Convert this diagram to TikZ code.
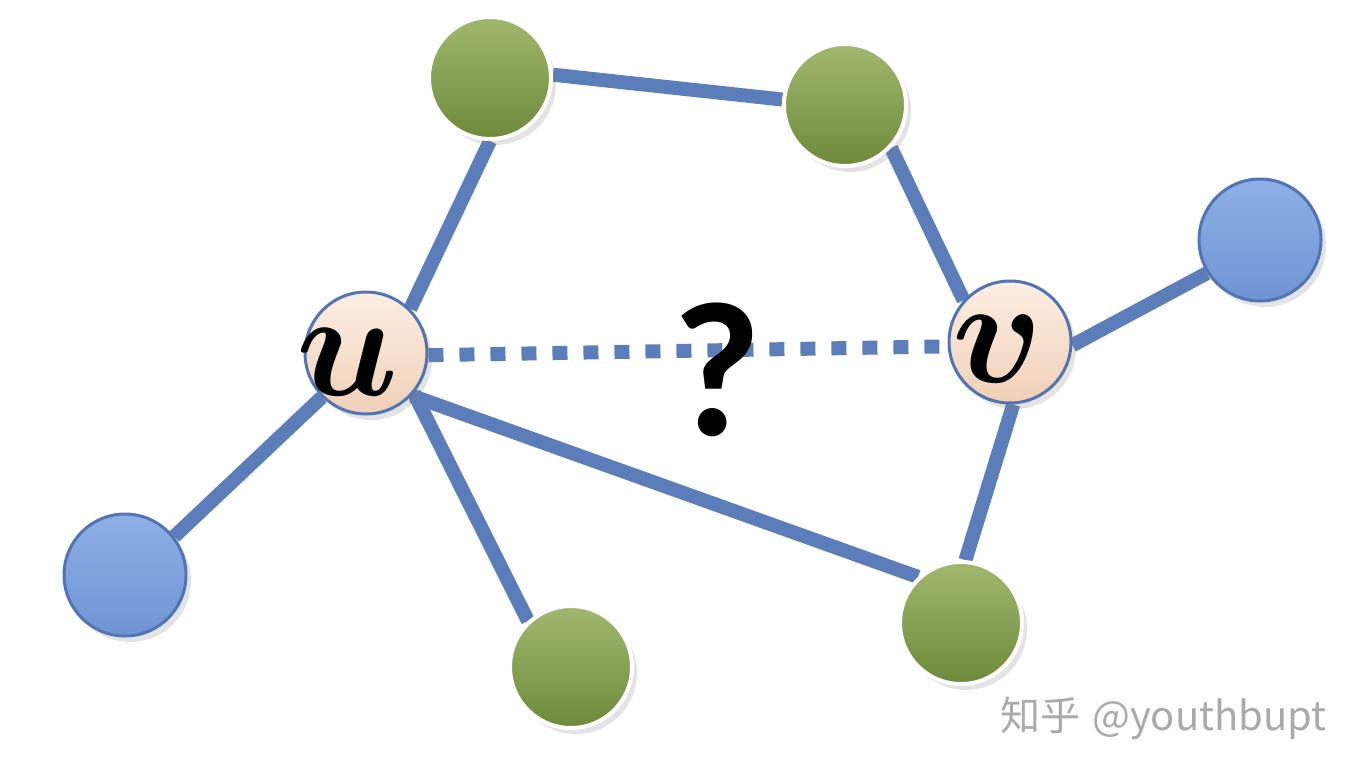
\documentclass[tikz,border=0pt]{standalone}
\usepackage{fix-cm}
\usepackage{fontspec}
\newfontfamily\cjk{Noto Sans CJK SC}
\newfontfamily\qfont{Carlito}
\usetikzlibrary{shadows,backgrounds}
\definecolor{edgeblue}{RGB}{91,125,185}
\definecolor{greentop}{RGB}{160,184,110}
\definecolor{greenbot}{RGB}{108,138,58}
\definecolor{bluetop}{RGB}{140,176,230}
\definecolor{bluebot}{RGB}{110,148,212}
\definecolor{blueline}{RGB}{82,116,178}
\definecolor{peachtop}{RGB}{252,238,226}
\definecolor{peachbot}{RGB}{240,208,184}
\definecolor{wmgray}{RGB}{170,170,170}
\tikzset{
  nodeshadow/.style={drop shadow={opacity=0.22, shadow xshift=5pt, shadow yshift=-6pt}},
  greennode/.style={circle, inner sep=0pt, minimum size=122pt, draw=white, line width=4pt,
    top color=greentop, bottom color=greenbot, nodeshadow},
  bluenode/.style={circle, inner sep=0pt, minimum size=122pt, draw=blueline, line width=3pt,
    top color=bluetop, bottom color=bluebot, nodeshadow},
  peachnode/.style={circle, inner sep=0pt, minimum size=122pt, draw=blueline, line width=3pt,
    top color=peachtop, bottom color=peachbot, nodeshadow},
  link/.style={draw=edgeblue, line width=14pt},
  guess/.style={draw=edgeblue, line width=14pt, dash pattern=on 15pt off 16pt},
  letter/.style={inner sep=0pt, font=\fontsize{150}{150}\selectfont\boldmath},
  qmark/.style={inner sep=0pt, font=\qfont\bfseries\fontsize{192}{192}\selectfont},
  wmark/.style={inner sep=0pt, anchor=west, text=wmgray, font=\fontsize{40}{40}\selectfont}
}
\begin{document}
\begin{tikzpicture}[x=1pt,y=-1pt]
\useasboundingbox (0,0) rectangle (1362,776);
\node[peachnode] (u) at (366,353) {};
\node[peachnode] (v) at (1010,342) {};
\node[greennode] (g1) at (490,78) {};
\node[greennode] (g2) at (845,105) {};
\node[greennode] (g3) at (571,667) {};
\node[greennode] (g4) at (961,623) {};
\node[bluenode] (b1) at (1260,240) {};
\node[bluenode] (b2) at (125,575) {};
\begin{scope}[on background layer]
  \draw[link] (u.45) -- (g1.south);
  \draw[link] (g1.3) -- (g2.175);
  \draw[link] (g2.-43) -- (v.138);
  \draw[link] (v.-3) -- (b1.212);
  \draw[link] (u.225) -- (b2.38);
  \draw[link] (u.-40) -- (g3.133);
  \draw[link] (u.-43) -- (g4.133);
  \draw[link] (v.-87) -- (g4.86);
\end{scope}
\draw[guess] (u.-2) -- (v.184);
\node[letter] (ul) at (348,362) {$u$};
\node[letter] (vl) at (998,349) {$v$};
\node[qmark] (q) at (717,370) {?};
\node[wmark] (wm) at (1000,718) {{\cjk 知乎} {\cjk @youthbupt}};
\end{tikzpicture}
\end{document}
